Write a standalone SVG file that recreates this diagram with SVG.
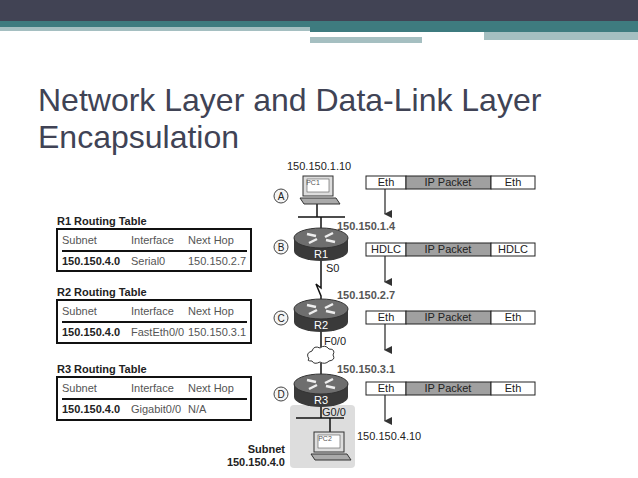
<svg xmlns="http://www.w3.org/2000/svg" width="638" height="478" viewBox="0 0 638 478">
<style>
text{font-family:"Liberation Sans",Arial,sans-serif;fill:#222}
.t{font-size:11px}
.b{font-weight:bold}
.g{fill:#555}
.box{fill:#fff;stroke:#111;stroke-width:2}
.fr{fill:#fff;stroke:#222;stroke-width:1}
.ip{fill:#a0a0a0;stroke:#222;stroke-width:1}
.ln{stroke:#111;stroke-width:1.5;fill:none}
.cir{fill:#f4f4f4;stroke:#444;stroke-width:1}
</style>
<defs>
<marker id="ah" markerWidth="8" markerHeight="8" refX="4" refY="7" orient="auto" markerUnits="userSpaceOnUse"><path d="M0,0 L8,0 L4,8 Z" fill="#333"/></marker>
<g id="router">
<path d="M-27,0 L-27,13 A27,10 0 0 0 27,13 L27,0 Z" fill="#3a3a3a"/>
<ellipse cx="0" cy="0" rx="27" ry="10" fill="#6e6e6e" stroke="#333"/>
<path d="M-14,-4 L-5,-2 M14,4 L5,2 M-12,5 L-4,1 M12,-5 L4,-1" stroke="#eee" stroke-width="2.5"/>
</g>
<g id="pc">
<rect x="-16" y="-14" width="30" height="20" fill="#ddd" stroke="#333"/>
<rect x="-12" y="-11" width="22" height="13" fill="#fff" stroke="#555" stroke-width="0.6"/>
<path d="M-19,8 L17,8 L21,14 L-15,14 Z" fill="#aaa" stroke="#333"/>
</g>
</defs>
<rect width="638" height="478" fill="#fff"/>
<rect x="0" y="0" width="638" height="21" fill="#414354"/>
<rect x="0" y="21" width="638" height="6" fill="#3e7b7f"/>
<rect x="0" y="27" width="310" height="4" fill="#a5bfc1"/>
<rect x="310" y="27" width="328" height="5" fill="#3e7b7f"/>
<rect x="484" y="32" width="154" height="8" fill="#a5bfc1"/>
<rect x="310" y="36" width="174" height="2" fill="#fff"/>
<rect x="310" y="37" width="112" height="6" fill="#a5bfc1"/>
<text x="38" y="111" font-size="32" style="fill:#404355">Network Layer and Data-Link Layer</text>
<text x="38" y="148" font-size="32" style="fill:#404355">Encapsulation</text>

<g id="r1table">
<text x="57" y="225" class="t b">R1 Routing Table</text>
<rect x="57" y="229" width="194" height="42" class="box"/>
<text x="62" y="244" class="t g">Subnet</text><text x="131" y="244" class="t g">Interface</text><text x="188" y="244" class="t g">Next Hop</text>
<line x1="62" y1="251" x2="247" y2="251" stroke="#111" stroke-width="2"/>
<text x="62" y="265" class="t b">150.150.4.0</text><text x="131" y="265" class="t g">Serial0</text><text x="188" y="265" class="t g">150.150.2.7</text>
</g>
<g id="r2table">
<text x="57" y="296" class="t b">R2 Routing Table</text>
<rect x="57" y="300" width="194" height="43" class="box"/>
<text x="62" y="315" class="t g">Subnet</text><text x="131" y="315" class="t g">Interface</text><text x="188" y="315" class="t g">Next Hop</text>
<line x1="62" y1="322" x2="247" y2="322" stroke="#111" stroke-width="2"/>
<text x="62" y="336" class="t b">150.150.4.0</text><text x="131" y="336" class="t g">FastEth0/0</text><text x="188" y="336" class="t g">150.150.3.1</text>
</g>
<g id="r3table">
<text x="57" y="373" class="t b">R3 Routing Table</text>
<rect x="57" y="377" width="194" height="43" class="box"/>
<text x="62" y="392" class="t g">Subnet</text><text x="131" y="392" class="t g">Interface</text><text x="188" y="392" class="t g">Next Hop</text>
<line x1="62" y1="399" x2="247" y2="399" stroke="#111" stroke-width="2"/>
<text x="62" y="413" class="t b">150.150.4.0</text><text x="131" y="413" class="t g">Gigabit0/0</text><text x="188" y="413" class="t g">N/A</text>
</g>

<rect x="290" y="405" width="65" height="63" rx="4" fill="#ddd"/>

<g id="connectors">
<line x1="317" y1="203" x2="317" y2="217" class="ln"/>
<line x1="298" y1="217" x2="345" y2="217" class="ln" stroke-width="2.5"/>
<line x1="321" y1="217" x2="321" y2="228" class="ln"/>
<path d="M321,261 L321,288 L316,284 L321,296 L321,300" class="ln"/>
<line x1="321" y1="332" x2="321" y2="347" class="ln"/>
<line x1="321" y1="363" x2="321" y2="375" class="ln"/>
<line x1="321" y1="407" x2="321" y2="418" class="ln"/>
<line x1="296" y1="418" x2="344" y2="418" class="ln" stroke-width="2.5"/>
<line x1="330" y1="418" x2="330" y2="432" class="ln"/>
<line x1="385" y1="189" x2="385" y2="214" stroke="#333" stroke-width="1.3" marker-end="url(#ah)"/>
<line x1="385" y1="256" x2="385" y2="282" stroke="#333" stroke-width="1.3" marker-end="url(#ah)"/>
<line x1="385" y1="324" x2="385" y2="350" stroke="#333" stroke-width="1.3" marker-end="url(#ah)"/>
<line x1="385" y1="395" x2="385" y2="421" stroke="#333" stroke-width="1.3" marker-end="url(#ah)"/>
</g>

<g id="cloud"><path d="M309,359 q-4,-6 3,-8 q2,-6 8,-3 q5,-4 9,1 q7,0 4,6 q3,5 -4,6 q-4,4 -9,1 q-6,3 -8,-1 q-6,0 -3,-2 z" fill="#fff" stroke="#333"/></g>

<g id="pc1"><use href="#pc" x="319" y="190"/><text x="313" y="185" font-size="7" class="g" text-anchor="middle">PC1</text></g>
<g id="pc2"><use href="#pc" x="330" y="446"/><text x="325" y="441" font-size="7" class="g" text-anchor="middle">PC2</text></g>
<g id="R1"><use href="#router" x="321" y="238"/><text x="321" y="258" font-size="11" text-anchor="middle" style="fill:#fff">R1</text></g>
<g id="R2"><use href="#router" x="321" y="309"/><text x="321" y="329" font-size="11" text-anchor="middle" style="fill:#fff">R2</text></g>
<g id="R3"><use href="#router" x="321" y="384"/><text x="321" y="404" font-size="11" text-anchor="middle" style="fill:#fff">R3</text></g>

<g id="A"><circle cx="281" cy="196" r="7" class="cir"/><text x="281" y="200" font-size="10" text-anchor="middle">A</text></g>
<g id="B"><circle cx="281" cy="247" r="7" class="cir"/><text x="281" y="251" font-size="10" text-anchor="middle">B</text></g>
<g id="C"><circle cx="281" cy="318" r="7" class="cir"/><text x="281" y="322" font-size="10" text-anchor="middle">C</text></g>
<g id="D"><circle cx="281" cy="394" r="7" class="cir"/><text x="281" y="398" font-size="10" text-anchor="middle">D</text></g>

<g class="labels">
<text x="287" y="170" class="t">150.150.1.10</text>
<text x="337" y="230" class="t b g">150.150.1.4</text>
<text x="326" y="272" class="t">S0</text>
<text x="324" y="345" class="t">F0/0</text>
<text x="337" y="299" class="t b g">150.150.2.7</text>
<text x="337" y="373" class="t b g">150.150.3.1</text>
<text x="322" y="416" class="t">G0/0</text>
<text x="357" y="440" class="t">150.150.4.10</text>
<text x="285" y="453" class="t b" text-anchor="end">Subnet</text>
<text x="285" y="466" class="t b" text-anchor="end">150.150.4.0</text>
</g>

<g id="frame1"><rect x="366" y="176" width="40" height="13" class="fr"/><rect x="406" y="176" width="85" height="13" class="ip"/><rect x="491" y="176" width="44" height="13" class="fr"/>
<text x="386" y="186" class="t" text-anchor="middle">Eth</text><text x="448" y="186" class="t" text-anchor="middle">IP Packet</text><text x="513" y="186" class="t" text-anchor="middle">Eth</text></g>
<g id="frame2"><rect x="366" y="243" width="40" height="13" class="fr"/><rect x="406" y="243" width="85" height="13" class="ip"/><rect x="491" y="243" width="44" height="13" class="fr"/>
<text x="386" y="253" class="t" text-anchor="middle">HDLC</text><text x="448" y="253" class="t" text-anchor="middle">IP Packet</text><text x="513" y="253" class="t" text-anchor="middle">HDLC</text></g>
<g id="frame3"><rect x="366" y="311" width="40" height="13" class="fr"/><rect x="406" y="311" width="85" height="13" class="ip"/><rect x="491" y="311" width="44" height="13" class="fr"/>
<text x="386" y="321" class="t" text-anchor="middle">Eth</text><text x="448" y="321" class="t" text-anchor="middle">IP Packet</text><text x="513" y="321" class="t" text-anchor="middle">Eth</text></g>
<g id="frame4"><rect x="366" y="382" width="40" height="13" class="fr"/><rect x="406" y="382" width="85" height="13" class="ip"/><rect x="491" y="382" width="44" height="13" class="fr"/>
<text x="386" y="392" class="t" text-anchor="middle">Eth</text><text x="448" y="392" class="t" text-anchor="middle">IP Packet</text><text x="513" y="392" class="t" text-anchor="middle">Eth</text></g>
</svg>
